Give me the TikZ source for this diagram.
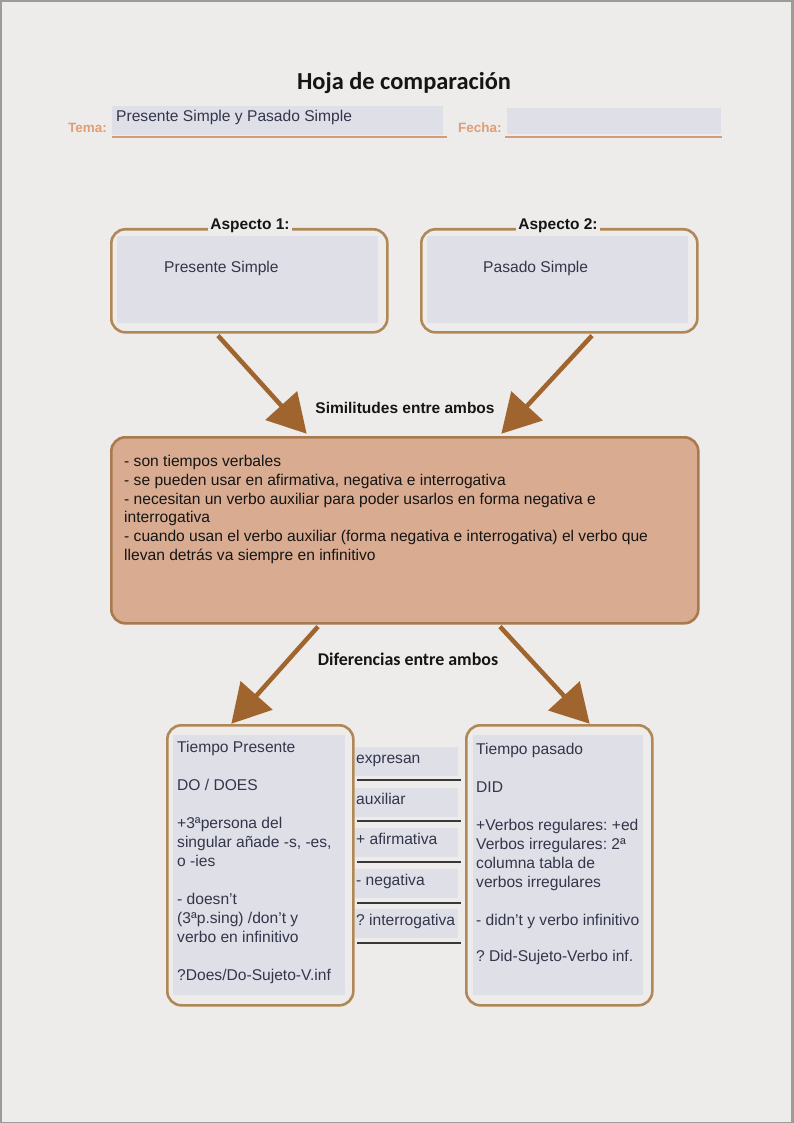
\documentclass[tikz,border=0pt]{standalone}
\usepackage{fontspec}
\setmainfont{Liberation Sans}
\newfontfamily\calib{Carlito}
\usetikzlibrary{arrows.meta,calc}
\frenchspacing
\definecolor{pagebg}{HTML}{EDECEA}
\definecolor{framec}{HTML}{9E9A96}
\definecolor{fieldc}{HTML}{DEDFE7}
\definecolor{boxline}{HTML}{B08857}
\definecolor{midfill}{HTML}{D9AC91}
\definecolor{midline}{HTML}{A97A4E}
\definecolor{arrc}{HTML}{A0652F}
\definecolor{labc}{HTML}{DE9E76}
\definecolor{ulinec}{HTML}{D49C78}
\definecolor{txtc}{HTML}{33364A}
\definecolor{dark}{HTML}{151515}
\tikzset{
  outerbox/.style={draw=boxline, line width=2.6pt, fill=pagebg, rounded corners=14pt, minimum width=#1, inner sep=0pt},
  field/.style={fill=fieldc, inner sep=0pt},
  body/.style={font=\fontsize{15.6}{19}\selectfont, text=txtc, inner sep=0pt},
  bold/.style={font=\bfseries\fontsize{15.5}{18}\selectfont, text=dark, inner sep=0pt},
  arr/.style={draw=arrc, line width=4.5pt, -{Triangle[length=38pt,width=42pt]}, shorten >=-1pt},
  sepline/.style={draw=dark!85, line width=2pt},
  ulinestyle/.style={draw=ulinec, line width=2pt},
  lab/.style={font=\bfseries\fontsize{13.5}{15}\selectfont, text=labc, anchor=base west, inner sep=0pt},
}
\begin{document}
\begin{tikzpicture}[x=1pt,y=-1pt]
\useasboundingbox (0,0) rectangle (794,1123);
\fill[pagebg] (0,0) rectangle (794,1123);
\draw[framec, line width=2.5pt] (1,1) rectangle (792.5,1123);

% title
\node[font=\calib\bfseries\fontsize{24.4}{27}\selectfont, text=dark, anchor=base] (title) at (404,90) {Hoja de comparación};

% tema / fecha
\node[field, minimum width=331pt, minimum height=29pt, anchor=north west] (temaf) at (112,106) {};
\node[field, minimum width=214pt, minimum height=26pt, anchor=north west] (fechaf) at (507,108) {};
\coordinate (t1) at ($(temaf.south west)+(0,2)$);
\coordinate (t2) at ($(temaf.south east)+(4,2)$);
\coordinate (f1) at ($(fechaf.south west)+(-2,3)$);
\coordinate (f2) at ($(fechaf.south east)+(1,3)$);
\draw[ulinestyle] (t1) -- (t2);
\draw[ulinestyle] (f1) -- (f2);
\node[lab] (tema) at (68,133) {Tema:};
\node[lab] (fecha) at (458,133) {Fecha:};
\node[body, anchor=base west] (tematxt) at (116,122) {Presente Simple y Pasado Simple};

% aspect boxes
\node[outerbox=276pt, minimum height=103pt, anchor=north west] (asp1) at (110,228) {};
\node[field, minimum width=261pt, minimum height=87pt, anchor=north west] (asp1f) at (117,236) {};
\node[bold, fill=pagebg, inner xsep=2pt, inner ysep=1pt] (asp1l) at (250,226) {Aspecto 1:};
\node[body, anchor=base west] (asp1t) at (164,272) {Presente Simple};

\node[outerbox=276pt, minimum height=103pt, anchor=north west] (asp2) at (420,228) {};
\node[field, minimum width=261pt, minimum height=87pt, anchor=north west] (asp2f) at (427,236) {};
\node[bold, fill=pagebg, inner xsep=2pt, inner ysep=1pt] (asp2l) at (558,226) {Aspecto 2:};
\node[body, anchor=base west] (asp2t) at (483,272) {Pasado Simple};

% similarities box
\node[draw=midline, fill=midfill, line width=2.6pt, rounded corners=14pt, minimum width=587pt, minimum height=186pt, anchor=north west, inner sep=0pt] (sim) at (110,436) {};
\node[font=\fontsize{15.6}{18.8}\selectfont, text=dark, align=left, anchor=north west, inner sep=0pt] (simt) at (124,455) {- son tiempos verbales\\
- se pueden usar en afirmativa, negativa e interrogativa\\
- necesitan un verbo auxiliar para poder usarlos en forma negativa e\\
interrogativa\\
- cuando usan el verbo auxiliar (forma negativa e interrogativa) el verbo que\\
llevan detrás va siempre en infinitivo};
\node[bold, anchor=base] (simlab) at (405,413) {Similitudes entre ambos};

% arrows to similarities
\coordinate (a1s) at ($(asp1.south west)+(108,2)$);
\coordinate (a1e) at ($(sim.north west)+(196,-3)$);
\coordinate (a2s) at ($(asp2.south west)+(172,2)$);
\coordinate (a2e) at ($(sim.north west)+(392,-3)$);
\draw[arr] (a1s) -- (a1e);
\draw[arr] (a2s) -- (a2e);

% difference boxes
\node[outerbox=186pt, minimum height=280pt, anchor=north west] (pres) at (166,724) {};
\node[field, minimum width=172pt, minimum height=260pt, anchor=north west] (presf) at (173,735) {};
\node[outerbox=186pt, minimum height=280pt, anchor=north west] (past) at (465,724) {};
\node[field, minimum width=170pt, minimum height=260pt, anchor=north west] (pastf) at (473,735) {};

\node[font=\calib\bfseries\fontsize{17.9}{20}\selectfont, text=dark, anchor=base, inner sep=0pt] (diflab) at (408,665) {Diferencias entre ambos};

\coordinate (b1s) at ($(sim.south west)+(208,2)$);
\coordinate (b1e) at ($(pres.north west)+(66,-1)$);
\coordinate (b2s) at ($(sim.south west)+(390,2)$);
\coordinate (b2e) at ($(past.north west)+(124,-1)$);
\draw[arr] (b1s) -- (b1e);
\draw[arr] (b2s) -- (b2e);

\node[body, align=left, anchor=north west] (prest) at (177,741) {Tiempo Presente\\[19pt]
DO / DOES\\[19pt]
+3ªpersona del\\
singular añade -s, -es,\\
o -ies\\[19pt]
- doesn't\\
(3ªp.sing) /don't y\\
verbo en infinitivo\\[19pt]
?Does/Do-Sujeto-V.inf};

\node[body, align=left, anchor=north west] (pastt) at (476,743) {Tiempo pasado\\[19pt]
DID\\[19pt]
+Verbos regulares: +ed\\
Verbos irregulares: 2ª\\
columna tabla de\\
verbos irregulares\\[19pt]
- didn't y verbo infinitivo\\[17pt]
? Did-Sujeto-Verbo inf.};

% middle column fields
\foreach \nm/\yy/\tx in {c1/747/expresan, c2/788/auxiliar, c3/828/+ afirmativa, c4/869/- negativa, c5/909/? interrogativa}{
  \node[field, minimum width=103pt, minimum height=29pt, anchor=north west] (\nm f) at (355,\yy) {};
  \node[body, anchor=base west] (\nm t) at (356,\yy+16) {\tx};
}
\foreach \nm/\yy in {l1/780, l2/821, l3/862, l4/903, l5/943}{
  \coordinate (\nm a) at (357,\yy);
  \coordinate (\nm b) at (461,\yy);
  \draw[sepline] (\nm a) -- (\nm b);
}
\end{tikzpicture}
\end{document}
